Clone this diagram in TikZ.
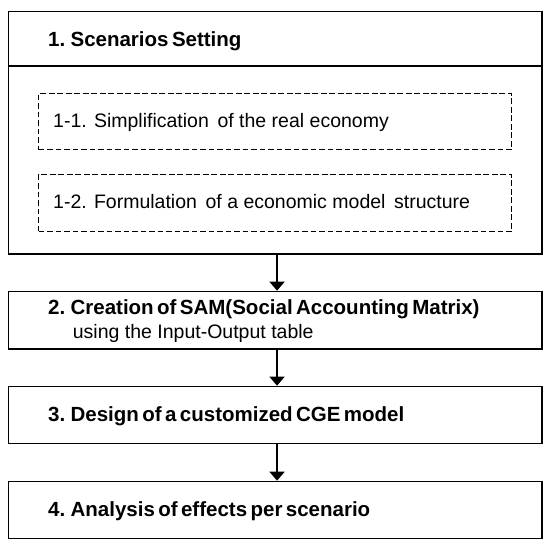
\documentclass[tikz,border=0pt]{standalone}
\usepackage{fontspec}
\setmainfont{Liberation Sans}
\newfontfamily\hdfont[WordSpace=0.6]{Liberation Sans}
\usetikzlibrary{arrows.meta}
\begin{document}
\begin{tikzpicture}[x=1pt,y=1pt,
  mainbox/.style={draw=black, line width=1.6pt, minimum width=533.5pt, inner sep=0pt, anchor=north west},
  dashbox/.style={draw=black, line width=1.2pt, dash pattern=on 5.7pt off 2.8pt, minimum width=473pt, inner sep=0pt, anchor=north west},
  boldtxt/.style={font=\hdfont\fontsize{20.5}{24}\selectfont\bfseries, inner sep=0pt, anchor=base west},
  regtxt/.style={font=\fontsize{19.5}{24}\selectfont, inner sep=0pt, anchor=base west},
  flow/.style={draw=black, line width=1.6pt, -{Triangle[length=9pt,width=15pt]}, shorten >=0pt}
]
\useasboundingbox (0,0) rectangle (550,-548);
\fill[white] (0,0) rectangle (550,-548);

% boxes
\node[mainbox, minimum height=242.6pt] (b1) at (7.5,-10.7) {};
\coordinate (dl) at (7.5,-66);
\coordinate (dr) at (541,-66);
\draw[line width=1.6pt] (dl) -- (dr);
\node[dashbox, minimum height=56pt] (d1) at (38,-93) {};
\node[dashbox, minimum height=57pt] (d2) at (38,-174) {};
\node[mainbox, minimum height=57.6pt] (b2) at (7.5,-290.7) {};
\node[mainbox, minimum height=57pt] (b3) at (7.5,-385.7) {};
\node[mainbox, minimum height=57pt] (b4) at (7.5,-480.7) {};

% texts
\node[boldtxt] (t1) at (48,-46.7) {1. Scenarios Setting};
\node[regtxt] (t11) at (53,-127.7) {1-1. Simplification\, of the real economy};
\node[regtxt] (t12) at (53,-209) {1-2. Formulation\, of a economic model\, structure};
\node[boldtxt] (t2) at (48,-315) {2. Creation of SAM(Social Accounting Matrix)};
\node[regtxt] (t2b) at (72.7,-339) {using the Input-Output table};
\node[boldtxt] (t3) at (48,-421.7) {3. Design of a customized CGE model};
\node[boldtxt] (t4) at (48,-516.7) {4. Analysis of effects per scenario};

% arrows
\draw[flow] ([xshift=2pt]b1.south) -- ([xshift=2pt]b2.north);
\draw[flow] ([xshift=2pt]b2.south) -- ([xshift=2pt]b3.north);
\draw[flow] ([xshift=2pt]b3.south) -- ([xshift=2pt]b4.north);
\end{tikzpicture}
\end{document}
